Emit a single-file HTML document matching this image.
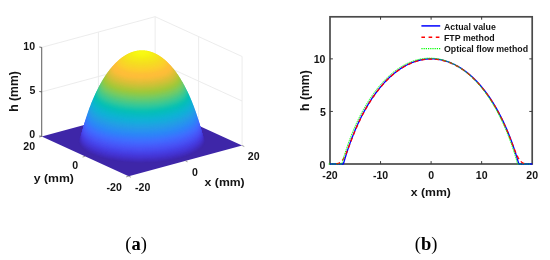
<!DOCTYPE html><html><head><meta charset="utf-8"><style>
html,body{margin:0;padding:0;background:#fff;}body{width:550px;height:260px;overflow:hidden;position:relative;}
svg{position:absolute;left:0;top:0;}
text{font-family:"Liberation Sans",Arial,sans-serif;font-weight:bold;fill:#141414;}
.cap{font-family:"Liberation Serif","Times New Roman",serif;fill:#000;font-weight:normal;}
</style></head><body>
<svg width="550" height="260" viewBox="0 0 550 260">
<line x1="98.42" y1="121.05" x2="98.42" y2="32.05" stroke="#eaeaea" stroke-width="0.9"/>
<line x1="155.12" y1="105.7" x2="155.12" y2="16.7" stroke="#eaeaea" stroke-width="0.9"/>
<line x1="41.72" y1="91.9" x2="155.12" y2="61.2" stroke="#eaeaea" stroke-width="0.9"/>
<line x1="41.72" y1="47.4" x2="155.12" y2="16.7" stroke="#eaeaea" stroke-width="0.9"/>
<line x1="198.6" y1="125.6" x2="198.6" y2="36.6" stroke="#eaeaea" stroke-width="0.9"/>
<line x1="242.08" y1="145.5" x2="242.08" y2="56.5" stroke="#eaeaea" stroke-width="0.9"/>
<line x1="155.12" y1="61.2" x2="242.08" y2="101" stroke="#eaeaea" stroke-width="0.9"/>
<line x1="155.12" y1="16.7" x2="242.08" y2="56.5" stroke="#eaeaea" stroke-width="0.9"/>
<g transform="matrix(2.835,-0.7675,-2.174,-0.995,141.9,140.95)">
<rect x="-20" y="-20" width="40" height="40" fill="#3e26a8"/>
</g>
<defs><mask id="domemask" maskUnits="userSpaceOnUse" x="0" y="0" width="550" height="260"><path d="M79.13,138.19 L87.59,113.01 L87.65,112.85 L87.95,111.97 L88.46,110.51 L88.52,110.34 L89.80,106.84 L90.24,105.67 L90.91,103.92 L90.98,103.77 L91.43,102.60 L92.14,100.86 L92.21,100.71 L93.94,96.64 L94.00,96.49 L94.39,95.63 L95.45,93.31 L95.51,93.17 L95.92,92.30 L97.47,89.13 L97.54,88.99 L97.98,88.13 L98.05,87.99 L98.94,86.27 L99.56,85.12 L99.63,84.99 L100.57,83.28 L100.64,83.15 L101.62,81.44 L101.70,81.32 L102.20,80.46 L102.89,79.33 L103.06,79.04 L103.13,78.92 L104.02,77.51 L104.10,77.39 L104.83,76.27 L105.39,75.42 L105.46,75.31 L106.23,74.19 L106.30,74.08 L106.89,73.24 L107.29,72.68 L107.37,72.57 L109.03,70.35 L109.10,70.25 L109.18,70.15 L109.61,69.60 L110.26,68.77 L110.34,68.67 L110.57,68.40 L110.65,68.30 L111.33,67.48 L111.79,66.94 L111.87,66.84 L113.07,65.49 L113.15,65.40 L113.23,65.31 L113.72,64.77 L113.80,64.69 L114.82,63.62 L114.90,63.54 L115.42,63.01 L115.50,62.92 L115.58,62.84 L116.66,61.79 L116.74,61.72 L116.82,61.64 L118.24,60.35 L118.32,60.27 L118.40,60.20 L118.48,60.13 L119.38,59.37 L119.46,59.30 L119.54,59.23 L120.48,58.48 L120.56,58.42 L120.64,58.35 L121.28,57.86 L121.36,57.80 L121.68,57.55 L121.77,57.49 L121.85,57.43 L121.94,57.37 L122.94,56.65 L123.03,56.59 L123.11,56.54 L123.20,56.48 L123.89,56.01 L123.98,55.96 L124.06,55.90 L124.78,55.45 L124.86,55.40 L124.95,55.35 L125.03,55.29 L125.77,54.85 L125.86,54.80 L125.94,54.75 L126.03,54.70 L126.78,54.28 L126.87,54.23 L126.95,54.18 L127.04,54.14 L127.12,54.09 L127.21,54.05 L127.30,54.00 L128.09,53.60 L128.17,53.56 L128.26,53.52 L128.35,53.48 L128.75,53.29 L128.84,53.24 L128.92,53.20 L129.01,53.16 L129.42,52.98 L129.50,52.94 L129.59,52.90 L129.68,52.87 L130.09,52.69 L130.18,52.65 L130.26,52.62 L130.35,52.58 L130.77,52.41 L130.85,52.38 L130.94,52.34 L131.02,52.31 L131.45,52.15 L131.53,52.12 L131.61,52.09 L131.70,52.05 L131.79,52.02 L131.87,51.99 L131.96,51.96 L132.05,51.93 L132.47,51.79 L132.56,51.76 L132.64,51.73 L132.73,51.70 L132.82,51.67 L133.24,51.54 L133.32,51.51 L133.41,51.49 L133.49,51.46 L133.58,51.43 L133.67,51.41 L133.75,51.38 L133.84,51.36 L134.25,51.24 L134.34,51.22 L134.42,51.20 L134.51,51.17 L134.59,51.15 L134.68,51.13 L134.77,51.11 L134.85,51.09 L134.94,51.06 L135.34,50.97 L135.42,50.95 L135.50,50.93 L135.59,50.91 L135.67,50.89 L135.76,50.87 L135.85,50.85 L135.93,50.83 L136.02,50.82 L136.11,50.80 L136.19,50.78 L136.28,50.76 L136.37,50.74 L136.46,50.73 L136.55,50.71 L136.64,50.69 L136.73,50.68 L136.82,50.66 L136.91,50.65 L137.00,50.63 L137.10,50.62 L137.41,50.57 L137.50,50.55 L137.59,50.54 L137.67,50.53 L137.76,50.51 L137.85,50.50 L137.94,50.49 L138.02,50.48 L138.11,50.46 L138.20,50.45 L138.29,50.44 L138.38,50.43 L138.47,50.42 L138.56,50.41 L138.65,50.40 L138.89,50.37 L138.97,50.36 L139.06,50.35 L139.14,50.34 L139.22,50.34 L139.31,50.33 L139.39,50.32 L139.48,50.31 L139.56,50.30 L139.65,50.30 L139.73,50.29 L139.82,50.28 L139.91,50.28 L139.99,50.27 L140.08,50.27 L140.16,50.26 L140.25,50.26 L140.34,50.25 L140.42,50.25 L140.51,50.24 L140.60,50.24 L140.68,50.23 L140.77,50.23 L140.86,50.23 L140.94,50.22 L141.03,50.22 L141.12,50.22 L141.20,50.21 L141.29,50.21 L141.38,50.21 L141.47,50.21 L141.55,50.21 L141.64,50.21 L141.73,50.21 L141.82,50.21 L141.90,50.21 L141.99,50.21 L142.08,50.21 L142.17,50.21 L142.25,50.21 L142.34,50.21 L142.43,50.21 L142.51,50.21 L142.60,50.21 L142.69,50.22 L142.78,50.22 L142.86,50.22 L142.95,50.22 L143.04,50.23 L143.12,50.23 L143.21,50.23 L143.30,50.24 L143.38,50.24 L143.47,50.25 L143.56,50.25 L143.64,50.26 L143.73,50.26 L143.82,50.27 L143.90,50.27 L143.99,50.28 L144.07,50.29 L144.16,50.29 L144.24,50.30 L144.33,50.31 L144.41,50.32 L144.50,50.32 L144.58,50.33 L144.67,50.34 L144.75,50.35 L144.83,50.36 L144.92,50.37 L145.16,50.39 L145.25,50.40 L145.34,50.41 L145.43,50.42 L145.52,50.43 L145.61,50.45 L145.69,50.46 L145.78,50.47 L145.87,50.48 L145.96,50.49 L146.05,50.51 L146.13,50.52 L146.22,50.53 L146.31,50.54 L146.39,50.56 L146.71,50.61 L146.80,50.62 L146.89,50.64 L146.99,50.65 L147.08,50.67 L147.17,50.69 L147.26,50.70 L147.35,50.72 L147.43,50.73 L147.52,50.75 L147.61,50.77 L147.70,50.79 L147.79,50.80 L147.87,50.82 L147.96,50.84 L148.05,50.86 L148.13,50.88 L148.22,50.90 L148.30,50.92 L148.39,50.94 L148.47,50.96 L148.86,51.05 L148.95,51.07 L149.04,51.09 L149.13,51.12 L149.21,51.14 L149.30,51.16 L149.38,51.18 L149.47,51.21 L149.55,51.23 L149.97,51.34 L150.05,51.37 L150.14,51.39 L150.23,51.42 L150.31,51.45 L150.40,51.47 L150.48,51.50 L150.57,51.52 L150.99,51.66 L151.07,51.68 L151.16,51.71 L151.25,51.74 L151.33,51.77 L151.76,51.91 L151.84,51.94 L151.93,51.97 L152.02,52.00 L152.11,52.04 L152.19,52.07 L152.28,52.10 L152.36,52.13 L152.78,52.29 L152.87,52.32 L152.95,52.36 L153.04,52.39 L153.46,52.56 L153.54,52.60 L153.63,52.63 L153.72,52.67 L154.13,52.84 L154.22,52.88 L154.30,52.92 L154.39,52.96 L154.80,53.14 L154.88,53.18 L154.97,53.22 L155.06,53.26 L155.46,53.45 L155.55,53.49 L155.63,53.54 L155.72,53.58 L156.51,53.98 L156.60,54.02 L156.68,54.07 L156.77,54.11 L156.85,54.16 L156.94,54.20 L157.02,54.25 L157.78,54.68 L157.86,54.73 L157.95,54.77 L158.03,54.82 L158.77,55.26 L158.86,55.32 L158.94,55.37 L159.03,55.42 L159.74,55.87 L159.83,55.93 L159.91,55.98 L160.61,56.44 L160.69,56.50 L160.78,56.56 L160.86,56.62 L161.87,57.33 L161.96,57.39 L162.04,57.45 L162.12,57.52 L162.45,57.76 L162.53,57.82 L163.16,58.31 L163.25,58.38 L163.33,58.44 L164.26,59.19 L164.35,59.26 L164.43,59.33 L165.32,60.09 L165.40,60.16 L165.49,60.23 L165.57,60.30 L166.98,61.59 L167.07,61.67 L167.15,61.75 L168.22,62.80 L168.31,62.88 L168.39,62.96 L168.91,63.49 L168.99,63.57 L170.01,64.64 L170.09,64.72 L170.58,65.26 L170.66,65.35 L171.85,66.70 L171.93,66.79 L172.01,66.88 L172.48,67.43 L173.16,68.25 L173.24,68.34 L173.46,68.62 L173.54,68.71 L174.19,69.54 L174.63,70.09 L174.70,70.19 L174.78,70.29 L176.44,72.51 L176.52,72.62 L176.91,73.18 L177.50,74.01 L177.58,74.12 L178.34,75.24 L178.42,75.36 L178.98,76.20 L179.71,77.33 L179.78,77.44 L180.67,78.86 L180.74,78.97 L180.92,79.26 L181.60,80.39 L182.11,81.25 L182.18,81.37 L183.16,83.08 L183.23,83.20 L184.18,84.92 L184.25,85.05 L184.86,86.19 L185.76,87.92 L185.83,88.05 L186.27,88.91 L187.82,92.08 L187.89,92.22 L188.29,93.08 L188.36,93.23 L189.42,95.54 L189.80,96.41 L189.87,96.56 L191.60,100.62 L191.66,100.77 L192.37,102.51 L192.83,103.68 L192.89,103.83 L193.56,105.58 L194.01,106.75 L195.28,110.25 L195.34,110.41 L195.85,111.87 L196.16,112.75 L204.61,137.89 L204.68,138.08 L204.74,138.27 L204.79,138.47 L204.84,138.66 L204.89,138.85 L204.93,139.05 L204.96,139.24 L205.00,139.43 L205.02,139.63 L205.04,139.82 L205.06,140.02 L205.07,140.21 L205.08,140.40 L205.08,140.60 L205.08,140.79 L205.07,140.98 L205.06,141.18 L205.04,141.37 L205.02,141.57 L204.99,141.76 L204.96,141.95 L204.93,142.15 L204.89,142.34 L204.84,142.53 L204.79,142.73 L204.73,142.92 L204.67,143.11 L204.61,143.31 L204.54,143.50 L204.46,143.69 L204.38,143.88 L204.30,144.07 L204.21,144.27 L204.12,144.46 L204.02,144.65 L203.92,144.84 L203.81,145.03 L203.70,145.22 L203.58,145.41 L203.46,145.60 L203.33,145.79 L203.20,145.98 L203.06,146.16 L202.92,146.35 L202.78,146.54 L202.63,146.72 L202.47,146.91 L202.32,147.10 L202.15,147.28 L201.98,147.47 L201.81,147.65 L201.63,147.84 L201.45,148.02 L201.26,148.20 L201.07,148.38 L200.88,148.56 L200.68,148.75 L200.47,148.93 L200.26,149.11 L200.05,149.28 L199.83,149.46 L199.61,149.64 L199.38,149.82 L199.15,149.99 L198.92,150.17 L198.68,150.34 L198.43,150.52 L198.19,150.69 L197.93,150.86 L197.68,151.04 L197.42,151.21 L197.15,151.38 L196.88,151.55 L196.61,151.72 L196.33,151.88 L196.05,152.05 L195.76,152.22 L195.47,152.38 L195.18,152.55 L194.88,152.71 L194.58,152.87 L194.27,153.03 L193.96,153.19 L193.64,153.35 L193.33,153.51 L193.00,153.67 L192.68,153.83 L192.35,153.98 L192.01,154.14 L191.68,154.29 L191.33,154.44 L190.99,154.60 L190.64,154.75 L190.29,154.90 L189.93,155.04 L189.57,155.19 L189.21,155.34 L188.84,155.48 L188.47,155.63 L188.09,155.77 L187.72,155.91 L187.34,156.05 L186.95,156.19 L186.56,156.33 L186.17,156.46 L185.78,156.60 L185.38,156.73 L184.98,156.87 L184.57,157.00 L184.16,157.13 L183.75,157.26 L183.34,157.39 L182.92,157.52 L182.50,157.64 L182.07,157.77 L181.65,157.89 L181.22,158.01 L180.78,158.13 L180.35,158.25 L179.91,158.37 L179.47,158.48 L179.02,158.60 L178.57,158.71 L178.12,158.83 L177.67,158.94 L177.21,159.05 L176.76,159.15 L176.29,159.26 L175.83,159.37 L175.36,159.47 L174.90,159.57 L174.42,159.67 L173.95,159.77 L173.47,159.87 L173.00,159.97 L172.51,160.06 L172.03,160.16 L171.54,160.25 L171.06,160.34 L170.57,160.43 L170.07,160.52 L169.58,160.60 L169.08,160.69 L168.58,160.77 L168.08,160.85 L167.58,160.93 L167.08,161.01 L166.57,161.09 L166.06,161.16 L165.55,161.24 L165.04,161.31 L164.52,161.38 L164.01,161.45 L163.49,161.52 L162.97,161.58 L162.45,161.65 L161.93,161.71 L161.41,161.77 L160.88,161.83 L160.35,161.89 L159.83,161.95 L159.30,162.00 L158.77,162.05 L158.23,162.10 L157.70,162.15 L157.17,162.20 L156.63,162.25 L156.09,162.29 L155.56,162.34 L155.02,162.38 L154.48,162.42 L153.94,162.46 L153.39,162.49 L152.85,162.53 L152.31,162.56 L151.76,162.59 L151.22,162.62 L150.67,162.65 L150.13,162.68 L149.58,162.70 L149.03,162.73 L148.49,162.75 L147.94,162.77 L147.39,162.79 L146.84,162.80 L146.29,162.82 L145.74,162.83 L145.19,162.84 L144.64,162.85 L144.09,162.86 L143.53,162.87 L142.98,162.87 L142.43,162.88 L141.88,162.88 L141.33,162.88 L140.78,162.87 L140.23,162.87 L139.68,162.86 L139.12,162.86 L138.57,162.85 L138.02,162.84 L137.47,162.83 L136.92,162.81 L136.37,162.80 L135.83,162.78 L135.28,162.76 L134.73,162.74 L134.18,162.72 L133.63,162.69 L133.09,162.67 L132.54,162.64 L132.00,162.61 L131.45,162.58 L130.91,162.55 L130.37,162.51 L129.83,162.48 L129.28,162.44 L128.74,162.40 L128.21,162.36 L127.67,162.32 L127.13,162.28 L126.60,162.23 L126.06,162.18 L125.53,162.13 L125.00,162.08 L124.47,162.03 L123.94,161.98 L123.41,161.92 L122.88,161.86 L122.36,161.81 L121.83,161.75 L121.31,161.68 L120.79,161.62 L120.27,161.56 L119.76,161.49 L119.24,161.42 L118.73,161.35 L118.21,161.28 L117.70,161.21 L117.20,161.13 L116.69,161.06 L116.18,160.98 L115.68,160.90 L115.18,160.82 L114.68,160.74 L114.19,160.65 L113.69,160.57 L113.20,160.48 L112.71,160.39 L112.22,160.30 L111.74,160.21 L111.25,160.12 L110.77,160.02 L110.29,159.93 L109.82,159.83 L109.34,159.73 L108.87,159.63 L108.40,159.53 L107.94,159.43 L107.47,159.32 L107.01,159.22 L106.55,159.11 L106.10,159.00 L105.64,158.89 L105.19,158.78 L104.75,158.67 L104.30,158.55 L103.86,158.44 L103.42,158.32 L102.99,158.20 L102.55,158.08 L102.12,157.96 L101.70,157.84 L101.27,157.71 L100.85,157.59 L100.43,157.46 L100.02,157.33 L99.61,157.21 L99.20,157.08 L98.80,156.94 L98.39,156.81 L98.00,156.68 L97.60,156.54 L97.21,156.41 L96.82,156.27 L96.44,156.13 L96.06,155.99 L95.68,155.85 L95.30,155.71 L94.93,155.57 L94.57,155.42 L94.20,155.28 L93.84,155.13 L93.49,154.98 L93.14,154.83 L92.79,154.68 L92.44,154.53 L92.10,154.38 L91.76,154.23 L91.43,154.07 L91.10,153.92 L90.77,153.76 L90.45,153.60 L90.13,153.45 L89.82,153.29 L89.51,153.13 L89.20,152.97 L88.90,152.80 L88.60,152.64 L88.31,152.48 L88.02,152.31 L87.73,152.15 L87.45,151.98 L87.17,151.81 L86.90,151.65 L86.63,151.48 L86.37,151.31 L86.11,151.14 L85.85,150.96 L85.60,150.79 L85.35,150.62 L85.10,150.45 L84.87,150.27 L84.63,150.10 L84.40,149.92 L84.17,149.74 L83.95,149.57 L83.73,149.39 L83.52,149.21 L83.31,149.03 L83.11,148.85 L82.91,148.67 L82.71,148.49 L82.52,148.31 L82.34,148.12 L82.15,147.94 L81.98,147.76 L81.80,147.57 L81.64,147.39 L81.47,147.20 L81.31,147.02 L81.16,146.83 L81.01,146.65 L80.87,146.46 L80.73,146.27 L80.59,146.08 L80.46,145.90 L80.33,145.71 L80.21,145.52 L80.10,145.33 L79.98,145.14 L79.88,144.95 L79.77,144.76 L79.68,144.57 L79.58,144.38 L79.49,144.19 L79.41,143.99 L79.33,143.80 L79.26,143.61 L79.19,143.42 L79.12,143.22 L79.06,143.03 L79.01,142.84 L78.96,142.65 L78.91,142.45 L78.87,142.26 L78.84,142.07 L78.80,141.87 L78.78,141.68 L78.76,141.49 L78.74,141.29 L78.73,141.10 L78.72,140.90 L78.72,140.71 L78.72,140.52 L78.73,140.32 L78.74,140.13 L78.76,139.93 L78.78,139.74 L78.81,139.55 L78.84,139.35 L78.87,139.16 L78.91,138.97 L78.96,138.77 L79.01,138.58 L79.07,138.39Z" fill="#fff"/></mask></defs>
<g mask="url(#domemask)"><g transform="matrix(2.835,-0.7675,-2.174,-0.995,141.9,140.95)">
<circle cx="0.144" cy="0.187" r="17.685" fill="#3e27ab"/>
<circle cx="0.287" cy="0.375" r="17.570" fill="#3f28ae"/>
<circle cx="0.431" cy="0.562" r="17.495" fill="#3f29b1"/>
<circle cx="0.575" cy="0.749" r="17.435" fill="#4029b3"/>
<circle cx="0.718" cy="0.937" r="17.390" fill="#402ab6"/>
<circle cx="0.862" cy="1.124" r="17.345" fill="#412bb9"/>
<circle cx="1.006" cy="1.311" r="17.305" fill="#412cbb"/>
<circle cx="1.149" cy="1.499" r="17.270" fill="#422dbe"/>
<circle cx="1.293" cy="1.686" r="17.240" fill="#422dc0"/>
<circle cx="1.437" cy="1.873" r="17.205" fill="#422ec2"/>
<circle cx="1.580" cy="2.061" r="17.180" fill="#432fc5"/>
<circle cx="1.724" cy="2.248" r="17.150" fill="#4330c7"/>
<circle cx="1.868" cy="2.435" r="17.120" fill="#4331c9"/>
<circle cx="2.011" cy="2.623" r="17.095" fill="#4432cb"/>
<circle cx="2.155" cy="2.810" r="17.070" fill="#4433ce"/>
<circle cx="2.299" cy="2.997" r="17.045" fill="#4434d0"/>
<circle cx="2.442" cy="3.185" r="17.020" fill="#4535d2"/>
<circle cx="2.586" cy="3.372" r="16.995" fill="#4536d3"/>
<circle cx="2.730" cy="3.560" r="16.970" fill="#4537d5"/>
<circle cx="2.873" cy="3.747" r="16.950" fill="#4537d7"/>
<circle cx="3.017" cy="3.934" r="16.925" fill="#4638d9"/>
<circle cx="3.161" cy="4.122" r="16.900" fill="#4639da"/>
<circle cx="3.304" cy="4.309" r="16.880" fill="#463bdc"/>
<circle cx="3.448" cy="4.496" r="16.855" fill="#463cde"/>
<circle cx="3.592" cy="4.684" r="16.835" fill="#463ddf"/>
<circle cx="3.735" cy="4.871" r="16.810" fill="#463ee1"/>
<circle cx="3.879" cy="5.058" r="16.790" fill="#463fe2"/>
<circle cx="4.023" cy="5.246" r="16.765" fill="#4740e4"/>
<circle cx="4.166" cy="5.433" r="16.745" fill="#4741e5"/>
<circle cx="4.310" cy="5.620" r="16.720" fill="#4742e6"/>
<circle cx="4.454" cy="5.808" r="16.700" fill="#4744e8"/>
<circle cx="4.597" cy="5.995" r="16.675" fill="#4745e9"/>
<circle cx="4.741" cy="6.182" r="16.655" fill="#4746ea"/>
<circle cx="4.885" cy="6.370" r="16.630" fill="#4747ec"/>
<circle cx="5.028" cy="6.557" r="16.610" fill="#4749ed"/>
<circle cx="5.172" cy="6.744" r="16.585" fill="#474aee"/>
<circle cx="5.316" cy="6.932" r="16.565" fill="#474bef"/>
<circle cx="5.459" cy="7.119" r="16.540" fill="#484cf0"/>
<circle cx="5.603" cy="7.306" r="16.520" fill="#484ef1"/>
<circle cx="5.746" cy="7.494" r="16.495" fill="#484ff2"/>
<circle cx="5.890" cy="7.681" r="16.470" fill="#4850f3"/>
<circle cx="6.034" cy="7.868" r="16.450" fill="#4851f4"/>
<circle cx="6.177" cy="8.056" r="16.425" fill="#4852f4"/>
<circle cx="6.321" cy="8.243" r="16.400" fill="#4854f5"/>
<circle cx="6.465" cy="8.430" r="16.380" fill="#4855f6"/>
<circle cx="6.608" cy="8.618" r="16.355" fill="#4756f6"/>
<circle cx="6.752" cy="8.805" r="16.330" fill="#4757f7"/>
<circle cx="6.896" cy="8.992" r="16.310" fill="#4759f8"/>
<circle cx="7.039" cy="9.180" r="16.285" fill="#475af8"/>
<circle cx="7.183" cy="9.367" r="16.260" fill="#475bf9"/>
<circle cx="7.327" cy="9.554" r="16.235" fill="#465cfa"/>
<circle cx="7.470" cy="9.742" r="16.210" fill="#465dfa"/>
<circle cx="7.614" cy="9.929" r="16.190" fill="#455ffb"/>
<circle cx="7.758" cy="10.116" r="16.165" fill="#4560fb"/>
<circle cx="7.901" cy="10.304" r="16.140" fill="#4561fc"/>
<circle cx="8.045" cy="10.491" r="16.115" fill="#4462fc"/>
<circle cx="8.189" cy="10.679" r="16.090" fill="#4464fd"/>
<circle cx="8.332" cy="10.866" r="16.065" fill="#4365fd"/>
<circle cx="8.476" cy="11.053" r="16.040" fill="#4366fd"/>
<circle cx="8.620" cy="11.241" r="16.015" fill="#4267fe"/>
<circle cx="8.763" cy="11.428" r="15.990" fill="#4269fe"/>
<circle cx="8.907" cy="11.615" r="15.965" fill="#416afe"/>
<circle cx="9.051" cy="11.803" r="15.940" fill="#416bfe"/>
<circle cx="9.194" cy="11.990" r="15.915" fill="#406cfe"/>
<circle cx="9.338" cy="12.177" r="15.890" fill="#406efe"/>
<circle cx="9.482" cy="12.365" r="15.865" fill="#3f6ffe"/>
<circle cx="9.625" cy="12.552" r="15.835" fill="#3f70fe"/>
<circle cx="9.769" cy="12.739" r="15.810" fill="#3e71fe"/>
<circle cx="9.913" cy="12.927" r="15.785" fill="#3d72fe"/>
<circle cx="10.056" cy="13.114" r="15.760" fill="#3c74fe"/>
<circle cx="10.200" cy="13.301" r="15.735" fill="#3b75fd"/>
<circle cx="10.344" cy="13.489" r="15.705" fill="#3a76fd"/>
<circle cx="10.487" cy="13.676" r="15.680" fill="#3978fd"/>
<circle cx="10.631" cy="13.863" r="15.655" fill="#3879fc"/>
<circle cx="10.775" cy="14.051" r="15.625" fill="#377afc"/>
<circle cx="10.918" cy="14.238" r="15.600" fill="#367bfb"/>
<circle cx="11.062" cy="14.425" r="15.575" fill="#357cfb"/>
<circle cx="11.206" cy="14.613" r="15.545" fill="#347efb"/>
<circle cx="11.349" cy="14.800" r="15.520" fill="#337ffa"/>
<circle cx="11.493" cy="14.987" r="15.490" fill="#3280fa"/>
<circle cx="11.637" cy="15.175" r="15.465" fill="#3181f9"/>
<circle cx="11.780" cy="15.362" r="15.435" fill="#3083f9"/>
<circle cx="11.924" cy="15.549" r="15.410" fill="#2f84f8"/>
<circle cx="12.068" cy="15.737" r="15.380" fill="#2f85f8"/>
<circle cx="12.211" cy="15.924" r="15.355" fill="#2e86f7"/>
<circle cx="12.355" cy="16.111" r="15.325" fill="#2d87f7"/>
<circle cx="12.499" cy="16.299" r="15.300" fill="#2d88f6"/>
<circle cx="12.642" cy="16.486" r="15.270" fill="#2c89f6"/>
<circle cx="12.786" cy="16.673" r="15.240" fill="#2c8bf5"/>
<circle cx="12.930" cy="16.861" r="15.215" fill="#2b8cf4"/>
<circle cx="13.073" cy="17.048" r="15.185" fill="#2b8df4"/>
<circle cx="13.217" cy="17.236" r="15.155" fill="#2b8ef3"/>
<circle cx="13.361" cy="17.423" r="15.125" fill="#2a8ff2"/>
<circle cx="13.504" cy="17.610" r="15.095" fill="#2a90f1"/>
<circle cx="13.648" cy="17.798" r="15.070" fill="#2991f0"/>
<circle cx="13.792" cy="17.985" r="15.040" fill="#2992f0"/>
<circle cx="13.935" cy="18.172" r="15.010" fill="#2993ef"/>
<circle cx="14.079" cy="18.360" r="14.980" fill="#2894ee"/>
<circle cx="14.223" cy="18.547" r="14.950" fill="#2895ed"/>
<circle cx="14.366" cy="18.734" r="14.920" fill="#2896ec"/>
<circle cx="14.510" cy="18.922" r="14.890" fill="#2797eb"/>
<circle cx="14.654" cy="19.109" r="14.860" fill="#2798ea"/>
<circle cx="14.797" cy="19.296" r="14.830" fill="#2699e9"/>
<circle cx="14.941" cy="19.484" r="14.800" fill="#269ae9"/>
<circle cx="15.085" cy="19.671" r="14.770" fill="#269be8"/>
<circle cx="15.228" cy="19.858" r="14.740" fill="#259ce7"/>
<circle cx="15.372" cy="20.046" r="14.710" fill="#259de6"/>
<circle cx="15.516" cy="20.233" r="14.675" fill="#249ee5"/>
<circle cx="15.659" cy="20.420" r="14.645" fill="#239fe5"/>
<circle cx="15.803" cy="20.608" r="14.615" fill="#22a0e4"/>
<circle cx="15.947" cy="20.795" r="14.585" fill="#22a1e3"/>
<circle cx="16.090" cy="20.982" r="14.550" fill="#21a2e3"/>
<circle cx="16.234" cy="21.170" r="14.520" fill="#20a3e2"/>
<circle cx="16.378" cy="21.357" r="14.490" fill="#1fa4e1"/>
<circle cx="16.521" cy="21.544" r="14.455" fill="#1ea5e0"/>
<circle cx="16.665" cy="21.732" r="14.425" fill="#1da6e0"/>
<circle cx="16.808" cy="21.919" r="14.395" fill="#1ca7df"/>
<circle cx="16.952" cy="22.106" r="14.360" fill="#1ba8de"/>
<circle cx="17.096" cy="22.294" r="14.330" fill="#1aa9de"/>
<circle cx="17.239" cy="22.481" r="14.295" fill="#19aadd"/>
<circle cx="17.383" cy="22.668" r="14.265" fill="#18abdc"/>
<circle cx="17.527" cy="22.856" r="14.230" fill="#17acdc"/>
<circle cx="17.670" cy="23.043" r="14.195" fill="#16addb"/>
<circle cx="17.814" cy="23.230" r="14.165" fill="#15aeda"/>
<circle cx="17.958" cy="23.418" r="14.130" fill="#14aed9"/>
<circle cx="18.101" cy="23.605" r="14.095" fill="#13afd8"/>
<circle cx="18.245" cy="23.793" r="14.065" fill="#13b0d7"/>
<circle cx="18.389" cy="23.980" r="14.030" fill="#12b1d7"/>
<circle cx="18.532" cy="24.167" r="13.995" fill="#11b1d6"/>
<circle cx="18.676" cy="24.355" r="13.960" fill="#11b2d5"/>
<circle cx="18.820" cy="24.542" r="13.925" fill="#10b3d4"/>
<circle cx="18.963" cy="24.729" r="13.890" fill="#0fb4d3"/>
<circle cx="19.107" cy="24.917" r="13.855" fill="#0fb4d1"/>
<circle cx="19.251" cy="25.104" r="13.820" fill="#0eb5d0"/>
<circle cx="19.394" cy="25.291" r="13.785" fill="#0eb6cf"/>
<circle cx="19.538" cy="25.479" r="13.750" fill="#0db6ce"/>
<circle cx="19.682" cy="25.666" r="13.715" fill="#0cb7cc"/>
<circle cx="19.825" cy="25.853" r="13.680" fill="#0cb7cb"/>
<circle cx="19.969" cy="26.041" r="13.645" fill="#0bb8ca"/>
<circle cx="20.113" cy="26.228" r="13.610" fill="#0bb9c8"/>
<circle cx="20.256" cy="26.415" r="13.575" fill="#0ab9c7"/>
<circle cx="20.400" cy="26.603" r="13.535" fill="#0abac6"/>
<circle cx="20.544" cy="26.790" r="13.500" fill="#09bac4"/>
<circle cx="20.687" cy="26.977" r="13.465" fill="#09bbc3"/>
<circle cx="20.831" cy="27.165" r="13.425" fill="#08bbc1"/>
<circle cx="20.975" cy="27.352" r="13.390" fill="#08bcc0"/>
<circle cx="21.118" cy="27.539" r="13.350" fill="#08bcbf"/>
<circle cx="21.262" cy="27.727" r="13.315" fill="#08bdbd"/>
<circle cx="21.406" cy="27.914" r="13.275" fill="#08bdbc"/>
<circle cx="21.549" cy="28.101" r="13.240" fill="#08beba"/>
<circle cx="21.693" cy="28.289" r="13.200" fill="#08bfb9"/>
<circle cx="21.837" cy="28.476" r="13.165" fill="#08bfb7"/>
<circle cx="21.980" cy="28.663" r="13.125" fill="#09c0b6"/>
<circle cx="22.124" cy="28.851" r="13.085" fill="#0ac0b4"/>
<circle cx="22.268" cy="29.038" r="13.050" fill="#0cc1b3"/>
<circle cx="22.411" cy="29.225" r="13.010" fill="#0ec1b1"/>
<circle cx="22.555" cy="29.413" r="12.970" fill="#10c2b0"/>
<circle cx="22.699" cy="29.600" r="12.930" fill="#12c2ae"/>
<circle cx="22.842" cy="29.787" r="12.890" fill="#14c3ad"/>
<circle cx="22.986" cy="29.975" r="12.850" fill="#17c3ab"/>
<circle cx="23.130" cy="30.162" r="12.810" fill="#1ac4a9"/>
<circle cx="23.273" cy="30.349" r="12.770" fill="#1cc5a8"/>
<circle cx="23.417" cy="30.537" r="12.730" fill="#1fc5a6"/>
<circle cx="23.561" cy="30.724" r="12.690" fill="#22c5a4"/>
<circle cx="23.704" cy="30.912" r="12.650" fill="#25c6a3"/>
<circle cx="23.848" cy="31.099" r="12.610" fill="#28c6a1"/>
<circle cx="23.992" cy="31.286" r="12.565" fill="#2bc79f"/>
<circle cx="24.135" cy="31.474" r="12.525" fill="#2ec79d"/>
<circle cx="24.279" cy="31.661" r="12.485" fill="#31c79c"/>
<circle cx="24.423" cy="31.848" r="12.440" fill="#33c89a"/>
<circle cx="24.566" cy="32.036" r="12.400" fill="#36c898"/>
<circle cx="24.710" cy="32.223" r="12.355" fill="#39c896"/>
<circle cx="24.854" cy="32.410" r="12.315" fill="#3bc894"/>
<circle cx="24.997" cy="32.598" r="12.270" fill="#3ec992"/>
<circle cx="25.141" cy="32.785" r="12.230" fill="#40c990"/>
<circle cx="25.285" cy="32.972" r="12.185" fill="#43c98e"/>
<circle cx="25.428" cy="33.160" r="12.140" fill="#46c98b"/>
<circle cx="25.572" cy="33.347" r="12.095" fill="#49c989"/>
<circle cx="25.716" cy="33.534" r="12.055" fill="#4bc987"/>
<circle cx="25.859" cy="33.722" r="12.010" fill="#4eca84"/>
<circle cx="26.003" cy="33.909" r="11.965" fill="#51ca82"/>
<circle cx="26.147" cy="34.096" r="11.920" fill="#54ca80"/>
<circle cx="26.290" cy="34.284" r="11.875" fill="#57ca7d"/>
<circle cx="26.434" cy="34.471" r="11.830" fill="#5aca7b"/>
<circle cx="26.578" cy="34.658" r="11.785" fill="#5dca78"/>
<circle cx="26.721" cy="34.846" r="11.735" fill="#5fca76"/>
<circle cx="26.865" cy="35.033" r="11.690" fill="#62ca74"/>
<circle cx="27.009" cy="35.220" r="11.645" fill="#65cb71"/>
<circle cx="27.152" cy="35.408" r="11.595" fill="#68cb6f"/>
<circle cx="27.296" cy="35.595" r="11.550" fill="#6bcb6c"/>
<circle cx="27.440" cy="35.782" r="11.505" fill="#6ecb6a"/>
<circle cx="27.583" cy="35.970" r="11.455" fill="#70cb68"/>
<circle cx="27.727" cy="36.157" r="11.405" fill="#73cb66"/>
<circle cx="27.870" cy="36.344" r="11.360" fill="#76cb63"/>
<circle cx="28.014" cy="36.532" r="11.310" fill="#79cb61"/>
<circle cx="28.158" cy="36.719" r="11.260" fill="#7bcb5e"/>
<circle cx="28.301" cy="36.906" r="11.210" fill="#7eca5c"/>
<circle cx="28.445" cy="37.094" r="11.165" fill="#81ca59"/>
<circle cx="28.589" cy="37.281" r="11.115" fill="#83ca56"/>
<circle cx="28.732" cy="37.469" r="11.060" fill="#86ca53"/>
<circle cx="28.876" cy="37.656" r="11.010" fill="#89ca51"/>
<circle cx="29.020" cy="37.843" r="10.960" fill="#8bca4e"/>
<circle cx="29.163" cy="38.031" r="10.910" fill="#8eca4b"/>
<circle cx="29.307" cy="38.218" r="10.860" fill="#90c949"/>
<circle cx="29.451" cy="38.405" r="10.805" fill="#93c946"/>
<circle cx="29.594" cy="38.593" r="10.755" fill="#96c944"/>
<circle cx="29.738" cy="38.780" r="10.700" fill="#98c942"/>
<circle cx="29.882" cy="38.967" r="10.650" fill="#9bc840"/>
<circle cx="30.025" cy="39.155" r="10.595" fill="#9ec83e"/>
<circle cx="30.169" cy="39.342" r="10.540" fill="#a0c83c"/>
<circle cx="30.313" cy="39.529" r="10.490" fill="#a3c83b"/>
<circle cx="30.456" cy="39.717" r="10.435" fill="#a5c73a"/>
<circle cx="30.600" cy="39.904" r="10.380" fill="#a8c739"/>
<circle cx="30.744" cy="40.091" r="10.325" fill="#abc739"/>
<circle cx="30.887" cy="40.279" r="10.270" fill="#adc739"/>
<circle cx="31.031" cy="40.466" r="10.210" fill="#b0c639"/>
<circle cx="31.175" cy="40.653" r="10.155" fill="#b3c639"/>
<circle cx="31.318" cy="40.841" r="10.100" fill="#b5c539"/>
<circle cx="31.462" cy="41.028" r="10.040" fill="#b8c539"/>
<circle cx="31.606" cy="41.215" r="9.985" fill="#bbc538"/>
<circle cx="31.749" cy="41.403" r="9.925" fill="#bdc438"/>
<circle cx="31.893" cy="41.590" r="9.865" fill="#c0c438"/>
<circle cx="32.037" cy="41.777" r="9.805" fill="#c3c338"/>
<circle cx="32.180" cy="41.965" r="9.745" fill="#c5c338"/>
<circle cx="32.324" cy="42.152" r="9.685" fill="#c8c238"/>
<circle cx="32.468" cy="42.339" r="9.625" fill="#cbc238"/>
<circle cx="32.611" cy="42.527" r="9.565" fill="#cdc138"/>
<circle cx="32.755" cy="42.714" r="9.505" fill="#d0c138"/>
<circle cx="32.899" cy="42.901" r="9.440" fill="#d2c138"/>
<circle cx="33.042" cy="43.089" r="9.380" fill="#d5c038"/>
<circle cx="33.186" cy="43.276" r="9.315" fill="#d7c038"/>
<circle cx="33.330" cy="43.463" r="9.250" fill="#d9c038"/>
<circle cx="33.473" cy="43.651" r="9.190" fill="#dcbf38"/>
<circle cx="33.617" cy="43.838" r="9.125" fill="#debf38"/>
<circle cx="33.761" cy="44.025" r="9.055" fill="#e0bf38"/>
<circle cx="33.904" cy="44.213" r="8.990" fill="#e2bf38"/>
<circle cx="34.048" cy="44.400" r="8.925" fill="#e5bf38"/>
<circle cx="34.192" cy="44.588" r="8.855" fill="#e7bf38"/>
<circle cx="34.335" cy="44.775" r="8.790" fill="#e9bf38"/>
<circle cx="34.479" cy="44.962" r="8.720" fill="#ecbf38"/>
<circle cx="34.623" cy="45.150" r="8.650" fill="#eebf39"/>
<circle cx="34.766" cy="45.337" r="8.580" fill="#f0be39"/>
<circle cx="34.910" cy="45.524" r="8.510" fill="#f2be39"/>
<circle cx="35.054" cy="45.712" r="8.440" fill="#f5be39"/>
<circle cx="35.197" cy="45.899" r="8.365" fill="#f6be39"/>
<circle cx="35.341" cy="46.086" r="8.295" fill="#f8be39"/>
<circle cx="35.485" cy="46.274" r="8.220" fill="#fabe39"/>
<circle cx="35.628" cy="46.461" r="8.145" fill="#fbbe39"/>
<circle cx="35.772" cy="46.648" r="8.070" fill="#fcbe39"/>
<circle cx="35.916" cy="46.836" r="7.995" fill="#fdbe39"/>
<circle cx="36.059" cy="47.023" r="7.915" fill="#febe39"/>
<circle cx="36.203" cy="47.210" r="7.840" fill="#febe39"/>
<circle cx="36.347" cy="47.398" r="7.760" fill="#febe39"/>
<circle cx="36.490" cy="47.585" r="7.680" fill="#febf39"/>
<circle cx="36.634" cy="47.772" r="7.600" fill="#febf39"/>
<circle cx="36.778" cy="47.960" r="7.520" fill="#fec038"/>
<circle cx="36.921" cy="48.147" r="7.435" fill="#fdc137"/>
<circle cx="37.065" cy="48.334" r="7.350" fill="#fdc236"/>
<circle cx="37.209" cy="48.522" r="7.265" fill="#fdc335"/>
<circle cx="37.352" cy="48.709" r="7.180" fill="#fdc534"/>
<circle cx="37.496" cy="48.896" r="7.095" fill="#fdc633"/>
<circle cx="37.640" cy="49.084" r="7.005" fill="#fdc832"/>
<circle cx="37.783" cy="49.271" r="6.915" fill="#fdc931"/>
<circle cx="37.927" cy="49.458" r="6.825" fill="#fcca30"/>
<circle cx="38.071" cy="49.646" r="6.730" fill="#fccc2f"/>
<circle cx="38.214" cy="49.833" r="6.635" fill="#fccd2e"/>
<circle cx="38.358" cy="50.020" r="6.540" fill="#fcce2d"/>
<circle cx="38.502" cy="50.208" r="6.440" fill="#fccf2d"/>
<circle cx="38.645" cy="50.395" r="6.345" fill="#fbd02c"/>
<circle cx="38.789" cy="50.582" r="6.245" fill="#fbd12b"/>
<circle cx="38.932" cy="50.770" r="6.140" fill="#fad22a"/>
<circle cx="39.076" cy="50.957" r="6.035" fill="#f9d429"/>
<circle cx="39.220" cy="51.145" r="5.930" fill="#f9d528"/>
<circle cx="39.363" cy="51.332" r="5.820" fill="#f8d628"/>
<circle cx="39.507" cy="51.519" r="5.710" fill="#f8d727"/>
<circle cx="39.651" cy="51.707" r="5.595" fill="#f7d826"/>
<circle cx="39.794" cy="51.894" r="5.480" fill="#f7d925"/>
<circle cx="39.938" cy="52.081" r="5.360" fill="#f7da24"/>
<circle cx="40.082" cy="52.269" r="5.240" fill="#f6dc23"/>
<circle cx="40.225" cy="52.456" r="5.115" fill="#f6dd22"/>
<circle cx="40.369" cy="52.643" r="4.990" fill="#f5de21"/>
<circle cx="40.513" cy="52.831" r="4.855" fill="#f5df20"/>
<circle cx="40.656" cy="53.018" r="4.720" fill="#f5e11f"/>
<circle cx="40.800" cy="53.205" r="4.580" fill="#f5e21f"/>
<circle cx="40.944" cy="53.393" r="4.435" fill="#f5e31e"/>
<circle cx="41.087" cy="53.580" r="4.285" fill="#f5e51d"/>
<circle cx="41.231" cy="53.767" r="4.130" fill="#f5e61b"/>
<circle cx="41.375" cy="53.955" r="3.970" fill="#f5e71a"/>
<circle cx="41.518" cy="54.142" r="3.800" fill="#f5e919"/>
<circle cx="41.662" cy="54.329" r="3.625" fill="#f5ea18"/>
<circle cx="41.806" cy="54.517" r="3.440" fill="#f5ec16"/>
<circle cx="41.949" cy="54.704" r="3.245" fill="#f5ed15"/>
<circle cx="42.093" cy="54.891" r="3.030" fill="#f6ef14"/>
<circle cx="42.237" cy="55.079" r="2.805" fill="#f6f114"/>
<circle cx="42.380" cy="55.266" r="2.560" fill="#f6f213"/>
<circle cx="42.524" cy="55.453" r="2.285" fill="#f7f413"/>
<circle cx="42.668" cy="55.641" r="1.975" fill="#f7f613"/>
<circle cx="42.811" cy="55.828" r="1.605" fill="#f8f714"/>
<circle cx="42.955" cy="56.015" r="1.115" fill="#f8f914"/>
<circle cx="43.099" cy="56.203" r="0.050" fill="#f9fb15"/>
</g></g>
<line x1="41.72" y1="136.7" x2="41.72" y2="47.4" stroke="#5a5a5a" stroke-width="1.0"/>
<line x1="41.72" y1="136.4" x2="39.32" y2="136" stroke="#404040" stroke-width="0.8"/>
<line x1="41.72" y1="91.9" x2="39.32" y2="91.5" stroke="#404040" stroke-width="0.8"/>
<line x1="41.72" y1="47.4" x2="39.32" y2="47" stroke="#404040" stroke-width="0.8"/>
<line x1="128.68" y1="176.2" x2="130.88" y2="177.2" stroke="#777" stroke-width="0.7"/>
<line x1="185.38" y1="160.85" x2="187.58" y2="161.85" stroke="#777" stroke-width="0.7"/>
<line x1="242.08" y1="145.5" x2="244.28" y2="146.5" stroke="#777" stroke-width="0.7"/>
<line x1="128.68" y1="176.2" x2="126.08" y2="176.9" stroke="#777" stroke-width="0.7"/>
<line x1="85.2" y1="156.3" x2="82.6" y2="157" stroke="#777" stroke-width="0.7"/>
<line x1="41.72" y1="136.4" x2="39.12" y2="137.1" stroke="#777" stroke-width="0.7"/>
<text transform="translate(35.1,49.6) scale(1.06,1)" font-size="10" text-anchor="end">10</text>
<text transform="translate(35.4,93.8) scale(1.06,1)" font-size="10" text-anchor="end">5</text>
<text transform="translate(35.1,137.9) scale(1.06,1)" font-size="10" text-anchor="end">0</text>
<text transform="translate(35.1,149.7) scale(1.06,1)" font-size="10" text-anchor="end">20</text>
<text transform="translate(78.2,169.2) scale(1.06,1)" font-size="10" text-anchor="end">0</text>
<text transform="translate(121.9,190.5) scale(1.06,1)" font-size="10" text-anchor="end">-20</text>
<text transform="translate(135,191) scale(1.06,1)" font-size="10" text-anchor="start">-20</text>
<text transform="translate(192.1,175.5) scale(1.06,1)" font-size="10" text-anchor="start">0</text>
<text transform="translate(247.8,160.2) scale(1.06,1)" font-size="10" text-anchor="start">20</text>
<text transform="translate(53.8,182.4) scale(1.065,1)" font-size="11.5" text-anchor="middle">y (mm)</text>
<text transform="translate(224.65,186) scale(1.065,1)" font-size="11.5" text-anchor="middle">x (mm)</text>
<text transform="translate(17.5,91.5) scale(1.03,1) rotate(-90)" font-size="12.2" text-anchor="middle">h (mm)</text>
<rect x="330" y="16.8" width="202.2" height="147.2" fill="none" stroke="#4a4a4a" stroke-width="1.7"/>
<line x1="380.55" y1="164" x2="380.55" y2="161.1" stroke="#3a3a3a" stroke-width="1"/>
<line x1="380.55" y1="16.8" x2="380.55" y2="19.7" stroke="#3a3a3a" stroke-width="1"/>
<line x1="431.1" y1="164" x2="431.1" y2="161.1" stroke="#3a3a3a" stroke-width="1"/>
<line x1="431.1" y1="16.8" x2="431.1" y2="19.7" stroke="#3a3a3a" stroke-width="1"/>
<line x1="481.65" y1="164" x2="481.65" y2="161.1" stroke="#3a3a3a" stroke-width="1"/>
<line x1="481.65" y1="16.8" x2="481.65" y2="19.7" stroke="#3a3a3a" stroke-width="1"/>
<line x1="330" y1="111.43" x2="332.9" y2="111.43" stroke="#3a3a3a" stroke-width="1"/>
<line x1="532.2" y1="111.43" x2="529.3" y2="111.43" stroke="#3a3a3a" stroke-width="1"/>
<line x1="330" y1="58.86" x2="332.9" y2="58.86" stroke="#3a3a3a" stroke-width="1"/>
<line x1="532.2" y1="58.86" x2="529.3" y2="58.86" stroke="#3a3a3a" stroke-width="1"/>
<polyline points="330,164 330.51,164 331.01,164 331.52,164 332.02,164 332.53,164 333.03,164 333.54,164 334.04,164 334.55,164 335.05,164 335.56,164 336.07,164 336.57,164 337.08,164 337.58,164 338.09,164 338.59,164 339.1,164 339.6,164 340.11,164 340.62,164 341.12,164 341.63,164 342.13,164 342.64,164 343.14,164 343.65,163.1 344.15,161.32 344.66,159.59 345.16,157.89 345.67,156.22 346.18,154.59 346.68,153 347.19,151.43 347.69,149.89 348.2,148.38 348.7,146.9 349.21,145.45 349.71,144.02 350.22,142.62 350.73,141.23 351.23,139.88 351.74,138.54 352.24,137.23 352.75,135.94 353.25,134.67 353.76,133.42 354.26,132.19 354.77,130.97 355.27,129.78 355.78,128.6 356.29,127.44 356.79,126.3 357.3,125.18 357.8,124.07 358.31,122.97 358.81,121.9 359.32,120.83 359.82,119.79 360.33,118.75 360.84,117.74 361.34,116.73 361.85,115.74 362.35,114.76 362.86,113.8 363.36,112.85 363.87,111.91 364.37,110.99 364.88,110.07 365.38,109.17 365.89,108.28 366.4,107.4 366.9,106.54 367.41,105.68 367.91,104.84 368.42,104.01 368.92,103.18 369.43,102.37 369.93,101.57 370.44,100.78 370.95,100 371.45,99.23 371.96,98.47 372.46,97.72 372.97,96.98 373.47,96.25 373.98,95.52 374.48,94.81 374.99,94.11 375.49,93.41 376,92.73 376.51,92.05 377.01,91.38 377.52,90.73 378.02,90.07 378.53,89.43 379.03,88.8 379.54,88.17 380.04,87.56 380.55,86.95 381.06,86.35 381.56,85.75 382.07,85.17 382.57,84.59 383.08,84.02 383.58,83.46 384.09,82.91 384.59,82.36 385.1,81.82 385.6,81.29 386.11,80.76 386.62,80.25 387.12,79.74 387.63,79.23 388.13,78.74 388.64,78.25 389.14,77.77 389.65,77.29 390.15,76.82 390.66,76.36 391.17,75.91 391.67,75.46 392.18,75.02 392.68,74.59 393.19,74.16 393.69,73.74 394.2,73.33 394.7,72.92 395.21,72.52 395.71,72.12 396.22,71.73 396.73,71.35 397.23,70.97 397.74,70.61 398.24,70.24 398.75,69.88 399.25,69.53 399.76,69.19 400.26,68.85 400.77,68.52 401.28,68.19 401.78,67.87 402.29,67.56 402.79,67.25 403.3,66.94 403.8,66.65 404.31,66.36 404.81,66.07 405.32,65.79 405.82,65.52 406.33,65.25 406.84,64.99 407.34,64.73 407.85,64.48 408.35,64.24 408.86,64 409.36,63.76 409.87,63.53 410.37,63.31 410.88,63.09 411.39,62.88 411.89,62.68 412.4,62.48 412.9,62.28 413.41,62.09 413.91,61.91 414.42,61.73 414.92,61.56 415.43,61.39 415.93,61.23 416.44,61.07 416.95,60.92 417.45,60.78 417.96,60.64 418.46,60.5 418.97,60.37 419.47,60.25 419.98,60.13 420.48,60.02 420.99,59.91 421.5,59.81 422,59.71 422.51,59.62 423.01,59.53 423.52,59.45 424.02,59.37 424.53,59.3 425.03,59.24 425.54,59.17 426.04,59.12 426.55,59.07 427.06,59.03 427.56,58.99 428.07,58.95 428.57,58.92 429.08,58.9 429.58,58.88 430.09,58.87 430.59,58.86 431.1,58.86 431.61,58.86 432.11,58.87 432.62,58.88 433.12,58.9 433.63,58.92 434.13,58.95 434.64,58.99 435.14,59.03 435.65,59.07 436.15,59.12 436.66,59.17 437.17,59.24 437.67,59.3 438.18,59.37 438.68,59.45 439.19,59.53 439.69,59.62 440.2,59.71 440.7,59.81 441.21,59.91 441.72,60.02 442.22,60.13 442.73,60.25 443.23,60.37 443.74,60.5 444.24,60.64 444.75,60.78 445.25,60.92 445.76,61.07 446.26,61.23 446.77,61.39 447.28,61.56 447.78,61.73 448.29,61.91 448.79,62.09 449.3,62.28 449.8,62.48 450.31,62.68 450.81,62.88 451.32,63.09 451.83,63.31 452.33,63.53 452.84,63.76 453.34,64 453.85,64.24 454.35,64.48 454.86,64.73 455.36,64.99 455.87,65.25 456.37,65.52 456.88,65.79 457.39,66.07 457.89,66.36 458.4,66.65 458.9,66.94 459.41,67.25 459.91,67.56 460.42,67.87 460.92,68.19 461.43,68.52 461.94,68.85 462.44,69.19 462.95,69.53 463.45,69.88 463.96,70.24 464.46,70.61 464.97,70.97 465.47,71.35 465.98,71.73 466.48,72.12 466.99,72.52 467.5,72.92 468,73.33 468.51,73.74 469.01,74.16 469.52,74.59 470.02,75.02 470.53,75.46 471.03,75.91 471.54,76.36 472.05,76.82 472.55,77.29 473.06,77.77 473.56,78.25 474.07,78.74 474.57,79.23 475.08,79.74 475.58,80.25 476.09,80.76 476.59,81.29 477.1,81.82 477.61,82.36 478.11,82.91 478.62,83.46 479.12,84.02 479.63,84.59 480.13,85.17 480.64,85.75 481.14,86.35 481.65,86.95 482.16,87.56 482.66,88.17 483.17,88.8 483.67,89.43 484.18,90.07 484.68,90.73 485.19,91.38 485.69,92.05 486.2,92.73 486.7,93.41 487.21,94.11 487.72,94.81 488.22,95.52 488.73,96.25 489.23,96.98 489.74,97.72 490.24,98.47 490.75,99.23 491.25,100 491.76,100.78 492.27,101.57 492.77,102.37 493.28,103.18 493.78,104.01 494.29,104.84 494.79,105.68 495.3,106.54 495.8,107.4 496.31,108.28 496.81,109.17 497.32,110.07 497.83,110.99 498.33,111.91 498.84,112.85 499.34,113.8 499.85,114.76 500.35,115.74 500.86,116.73 501.36,117.74 501.87,118.75 502.38,119.79 502.88,120.83 503.39,121.9 503.89,122.97 504.4,124.07 504.9,125.18 505.41,126.3 505.91,127.44 506.42,128.6 506.92,129.78 507.43,130.97 507.94,132.19 508.44,133.42 508.95,134.67 509.45,135.94 509.96,137.23 510.46,138.54 510.97,139.88 511.47,141.23 511.98,142.62 512.49,144.02 512.99,145.45 513.5,146.9 514,148.38 514.51,149.89 515.01,151.43 515.52,153 516.02,154.59 516.53,156.22 517.03,157.89 517.54,159.59 518.05,161.32 518.55,163.1 519.06,164 519.56,164 520.07,164 520.57,164 521.08,164 521.58,164 522.09,164 522.6,164 523.1,164 523.61,164 524.11,164 524.62,164 525.12,164 525.63,164 526.13,164 526.64,164 527.14,164 527.65,164 528.16,164 528.66,164 529.17,164 529.67,164 530.18,164 530.68,164 531.19,164 531.69,164 532.2,164" fill="none" stroke="#0000ff" stroke-width="1.35" stroke-linejoin="round"/>
<polyline points="336.27,163.79 336.77,163.71 337.28,163.61 337.78,163.49 338.29,163.33 338.8,163.14 339.3,162.9 339.81,162.62 340.31,162.28 340.82,161.88 341.32,161.42 341.83,160.88 342.33,160.28 342.84,159.6 343.35,158.84 343.85,158.01 344.36,157.11 344.86,156.14 345.37,155.1 345.87,154.01 346.38,152.86 346.88,151.66 347.39,150.43 347.89,149.16 348.4,147.87 348.91,146.56 349.41,145.24 349.92,143.91 350.42,142.58 350.93,141.26 351.43,139.94 351.94,138.63 352.44,137.33 352.95,136.05 353.46,134.78 353.96,133.53 354.47,132.3 354.97,131.08 355.48,129.88 355.98,128.7 356.49,127.53 356.99,126.39 357.5,125.25 358,124.14 358.51,123.04 359.02,121.96 359.52,120.89 360.03,119.84 360.53,118.8 361.04,117.78 361.54,116.78 362.05,115.78 362.55,114.8 363.06,113.83 363.57,112.88 364.07,111.94 364.58,111.01 365.08,110.1 365.59,109.19 366.09,108.3 366.6,107.42 367.1,106.56 367.61,105.7 368.11,104.86 368.62,104.02 369.13,103.2 369.63,102.39 370.14,101.58 370.64,100.79 371.15,100.01 371.65,99.24 372.16,98.48 372.66,97.73 373.17,96.99 373.68,96.26 374.18,95.54 374.69,94.82 375.19,94.12 375.7,93.43 376.2,92.74 376.71,92.06 377.21,91.4 377.72,90.74 378.22,90.09 378.73,89.45 379.24,88.81 379.74,88.19 380.25,87.57 380.75,86.96 381.26,86.36 381.76,85.77 382.27,85.19 382.77,84.61 383.28,84.04 383.79,83.48 384.29,82.93 384.8,82.38 385.3,81.84 385.81,81.31 386.31,80.79 386.82,80.27 387.32,79.76 387.83,79.26 388.33,78.77 388.84,78.28 389.35,77.8 389.85,77.33 390.36,76.86 390.86,76.4 391.37,75.95 391.87,75.5 392.38,75.06 392.88,74.63 393.39,74.2 393.9,73.78 394.4,73.37 394.91,72.96 395.41,72.56 395.92,72.17 396.42,71.78 396.93,71.4 397.43,71.03 397.94,70.66 398.44,70.3 398.95,69.94 399.46,69.59 399.96,69.25 400.47,68.91 400.97,68.58 401.48,68.25 401.98,67.93 402.49,67.62 402.99,67.31 403.5,67.01 404.01,66.72 404.51,66.43 405.02,66.14 405.52,65.87 406.03,65.59 406.53,65.33 407.04,65.07 407.54,64.81 408.05,64.56 408.55,64.32 409.06,64.08 409.57,63.85 410.07,63.62 410.58,63.4 411.08,63.19 411.59,62.98 412.09,62.77 412.6,62.58 413.1,62.38 413.61,62.2 414.12,62.01 414.62,61.84 415.13,61.67 415.63,61.5 416.14,61.34 416.64,61.19 417.15,61.04 417.65,60.89 418.16,60.75 418.66,60.62 419.17,60.49 419.68,60.37 420.18,60.25 420.69,60.14 421.19,60.04 421.7,59.94 422.2,59.84 422.71,59.75 423.21,59.67 423.72,59.59 424.23,59.51 424.73,59.44 425.24,59.38 425.74,59.32 426.25,59.27 426.75,59.22 427.26,59.18 427.76,59.14 428.27,59.11 428.77,59.08 429.28,59.06 429.79,59.04 430.29,59.03 430.8,59.03 431.3,59.03 431.81,59.03 432.31,59.04 432.82,59.06 433.32,59.08 433.83,59.1 434.34,59.13 434.84,59.17 435.35,59.21 435.85,59.26 436.36,59.31 436.86,59.37 437.37,59.43 437.87,59.5 438.38,59.57 438.88,59.65 439.39,59.73 439.9,59.82 440.4,59.92 440.91,60.02 441.41,60.12 441.92,60.23 442.42,60.35 442.93,60.47 443.43,60.6 443.94,60.73 444.45,60.86 444.95,61.01 445.46,61.16 445.96,61.31 446.47,61.47 446.97,61.63 447.48,61.8 447.98,61.98 448.49,62.16 448.99,62.34 449.5,62.54 450.01,62.73 450.51,62.94 451.02,63.15 451.52,63.36 452.03,63.58 452.53,63.8 453.04,64.04 453.54,64.27 454.05,64.51 454.56,64.76 455.06,65.02 455.57,65.27 456.07,65.54 456.58,65.81 457.08,66.09 457.59,66.37 458.09,66.66 458.6,66.95 459.1,67.25 459.61,67.56 460.12,67.87 460.62,68.19 461.13,68.51 461.63,68.84 462.14,69.18 462.64,69.52 463.15,69.87 463.65,70.22 464.16,70.59 464.67,70.95 465.17,71.33 465.68,71.71 466.18,72.09 466.69,72.48 467.19,72.88 467.7,73.29 468.2,73.7 468.71,74.12 469.21,74.54 469.72,74.97 470.23,75.41 470.73,75.86 471.24,76.31 471.74,76.77 472.25,77.23 472.75,77.7 473.26,78.18 473.76,78.67 474.27,79.16 474.78,79.66 475.28,80.17 475.79,80.68 476.29,81.21 476.8,81.74 477.3,82.27 477.81,82.82 478.31,83.37 478.82,83.93 479.32,84.5 479.83,85.07 480.34,85.65 480.84,86.24 481.35,86.84 481.85,87.45 482.36,88.06 482.86,88.69 483.37,89.32 483.87,89.96 484.38,90.61 484.89,91.26 485.39,91.93 485.9,92.6 486.4,93.29 486.91,93.98 487.41,94.68 487.92,95.39 488.42,96.11 488.93,96.84 489.43,97.58 489.94,98.33 490.45,99.09 490.95,99.86 491.46,100.64 491.96,101.43 492.47,102.23 492.97,103.04 493.48,103.86 493.98,104.69 494.49,105.53 495,106.38 495.5,107.25 496.01,108.13 496.51,109.01 497.02,109.92 497.52,110.83 498.03,111.75 498.53,112.69 499.04,113.64 499.54,114.61 500.05,115.58 500.56,116.58 501.06,117.58 501.57,118.6 502.07,119.63 502.58,120.68 503.08,121.75 503.59,122.82 504.09,123.92 504.6,125.03 505.11,126.16 505.61,127.3 506.12,128.46 506.62,129.64 507.13,130.84 507.63,132.05 508.14,133.28 508.64,134.53 509.15,135.79 509.65,137.07 510.16,138.37 510.67,139.67 511.17,140.99 511.68,142.32 512.18,143.65 512.69,144.97 513.19,146.3 513.7,147.61 514.2,148.91 514.71,150.18 515.22,151.42 515.72,152.62 516.23,153.78 516.73,154.89 517.24,155.94 517.74,156.92 518.25,157.84 518.75,158.68 519.26,159.45 519.76,160.15 520.27,160.77 520.78,161.32 521.28,161.79 521.79,162.21 522.29,162.56 522.8,162.85 523.3,163.1 523.81,163.3 524.31,163.46 524.82,163.59 525.33,163.69 525.83,163.77" fill="none" stroke="#ff0000" stroke-width="1.35" stroke-dasharray="4,3"/>
<polyline points="328.6,164 329.11,164 329.61,164 330.12,164 330.62,164 331.13,164 331.63,164 332.14,164 332.64,164 333.15,164 333.65,164 334.16,164 334.67,164 335.17,164 335.68,164 336.18,164 336.69,164 337.19,164 337.7,164 338.2,164 338.71,164 339.22,164 339.72,164 340.23,164 340.73,164 341.24,164 341.74,164 342.25,162.4 342.75,160.62 343.26,158.89 343.76,157.19 344.27,155.52 344.78,153.89 345.28,152.3 345.79,150.73 346.29,149.19 346.8,147.68 347.3,146.2 347.81,144.75 348.31,143.32 348.82,141.92 349.33,140.53 349.83,139.18 350.34,137.84 350.84,136.53 351.35,135.24 351.85,133.97 352.36,132.72 352.86,131.49 353.37,130.27 353.87,129.08 354.38,127.9 354.89,126.74 355.39,125.6 355.9,124.48 356.4,123.37 356.91,122.27 357.41,121.2 357.92,120.13 358.42,119.09 358.93,118.05 359.44,117.04 359.94,116.03 360.45,115.04 360.95,114.06 361.46,113.1 361.96,112.15 362.47,111.21 362.97,110.29 363.48,109.37 363.98,108.47 364.49,107.58 365,106.7 365.5,105.84 366.01,104.98 366.51,104.14 367.02,103.31 367.52,102.48 368.03,101.67 368.53,100.87 369.04,100.08 369.55,99.3 370.05,98.53 370.56,97.77 371.06,97.02 371.57,96.28 372.07,95.55 372.58,94.82 373.08,94.11 373.59,93.41 374.09,92.71 374.6,92.03 375.11,91.35 375.61,90.68 376.12,90.03 376.62,89.37 377.13,88.73 377.63,88.1 378.14,87.47 378.64,86.86 379.15,86.25 379.66,85.65 380.16,85.05 380.67,84.47 381.17,83.89 381.68,83.32 382.18,82.76 382.69,82.21 383.19,81.66 383.7,81.12 384.2,80.59 384.71,80.06 385.22,79.55 385.72,79.04 386.23,78.53 386.73,78.04 387.24,77.55 387.74,77.07 388.25,76.59 388.75,76.12 389.26,75.66 389.77,75.21 390.27,74.76 390.78,74.32 391.28,73.89 391.79,73.46 392.29,73.04 392.8,72.63 393.3,72.22 393.81,71.82 394.31,71.42 394.82,71.03 395.33,70.65 395.83,70.27 396.34,69.91 396.84,69.54 397.35,69.18 397.85,68.83 398.36,68.49 398.86,68.15 399.37,67.82 399.88,67.49 400.38,67.17 400.89,66.86 401.39,66.55 401.9,66.24 402.4,65.95 402.91,65.66 403.41,65.37 403.92,65.09 404.42,64.82 404.93,64.55 405.44,64.29 405.94,64.03 406.45,63.78 406.95,63.54 407.46,63.3 407.96,63.06 408.47,62.83 408.97,62.61 409.48,62.39 409.99,62.18 410.49,61.98 411,61.78 411.5,61.58 412.01,61.39 412.51,61.21 413.02,61.03 413.52,60.86 414.03,60.69 414.53,60.53 415.04,60.37 415.55,60.22 416.05,60.08 416.56,59.94 417.06,59.8 417.57,59.67 418.07,59.55 418.58,59.43 419.08,59.32 419.59,59.21 420.1,59.11 420.6,59.01 421.11,58.92 421.61,58.83 422.12,58.75 422.62,58.67 423.13,58.6 423.63,58.54 424.14,58.47 424.64,58.42 425.15,58.37 425.66,58.33 426.16,58.29 426.67,58.25 427.17,58.22 427.68,58.2 428.18,58.18 428.69,58.17 429.19,58.16 429.7,58.16 430.21,58.16 430.71,58.17 431.22,58.18 431.72,58.2 432.23,58.22 432.73,58.25 433.24,58.29 433.74,58.33 434.25,58.37 434.75,58.42 435.26,58.47 435.77,58.54 436.27,58.6 436.78,58.67 437.28,58.75 437.79,58.83 438.29,58.92 438.8,59.01 439.3,59.11 439.81,59.21 440.32,59.32 440.82,59.43 441.33,59.55 441.83,59.67 442.34,59.8 442.84,59.94 443.35,60.08 443.85,60.22 444.36,60.37 444.86,60.53 445.37,60.69 445.88,60.86 446.38,61.03 446.89,61.21 447.39,61.39 447.9,61.58 448.4,61.78 448.91,61.98 449.41,62.18 449.92,62.39 450.43,62.61 450.93,62.83 451.44,63.06 451.94,63.3 452.45,63.54 452.95,63.78 453.46,64.03 453.96,64.29 454.47,64.55 454.97,64.82 455.48,65.09 455.99,65.37 456.49,65.66 457,65.95 457.5,66.24 458.01,66.55 458.51,66.86 459.02,67.17 459.52,67.49 460.03,67.82 460.54,68.15 461.04,68.49 461.55,68.83 462.05,69.18 462.56,69.54 463.06,69.91 463.57,70.27 464.07,70.65 464.58,71.03 465.08,71.42 465.59,71.82 466.1,72.22 466.6,72.63 467.11,73.04 467.61,73.46 468.12,73.89 468.62,74.32 469.13,74.76 469.63,75.21 470.14,75.66 470.65,76.12 471.15,76.59 471.66,77.07 472.16,77.55 472.67,78.04 473.17,78.53 473.68,79.04 474.18,79.55 474.69,80.06 475.19,80.59 475.7,81.12 476.21,81.66 476.71,82.21 477.22,82.76 477.72,83.32 478.23,83.89 478.73,84.47 479.24,85.05 479.74,85.65 480.25,86.25 480.76,86.86 481.26,87.47 481.77,88.1 482.27,88.73 482.78,89.37 483.28,90.03 483.79,90.68 484.29,91.35 484.8,92.03 485.3,92.71 485.81,93.41 486.32,94.11 486.82,94.82 487.33,95.55 487.83,96.28 488.34,97.02 488.84,97.77 489.35,98.53 489.85,99.3 490.36,100.08 490.87,100.87 491.37,101.67 491.88,102.48 492.38,103.31 492.89,104.14 493.39,104.98 493.9,105.84 494.4,106.7 494.91,107.58 495.41,108.47 495.92,109.37 496.43,110.29 496.93,111.21 497.44,112.15 497.94,113.1 498.45,114.06 498.95,115.04 499.46,116.03 499.96,117.04 500.47,118.05 500.98,119.09 501.48,120.13 501.99,121.2 502.49,122.27 503,123.37 503.5,124.48 504.01,125.6 504.51,126.74 505.02,127.9 505.52,129.08 506.03,130.27 506.54,131.49 507.04,132.72 507.55,133.97 508.05,135.24 508.56,136.53 509.06,137.84 509.57,139.18 510.07,140.53 510.58,141.92 511.09,143.32 511.59,144.75 512.1,146.2 512.6,147.68 513.11,149.19 513.61,150.73 514.12,152.3 514.62,153.89 515.13,155.52 515.63,157.19 516.14,158.89 516.65,160.62 517.15,162.4 517.66,164 518.16,164 518.67,164 519.17,164 519.68,164 520.18,164 520.69,164 521.2,164 521.7,164 522.21,164 522.71,164 523.22,164 523.72,164 524.23,164 524.73,164 525.24,164 525.74,164 526.25,164 526.76,164 527.26,164 527.77,164 528.27,164 528.78,164 529.28,164 529.79,164 530.29,164 530.8,164" fill="none" stroke="#00ff00" stroke-width="0.9" stroke-dasharray="1.6,0.7"/>
<text transform="translate(325.5,62.8) scale(1.06,1)" font-size="10" text-anchor="end">10</text>
<text transform="translate(325.9,116) scale(1.06,1)" font-size="10" text-anchor="end">5</text>
<text transform="translate(325.5,168.5) scale(1.06,1)" font-size="10" text-anchor="end">0</text>
<text transform="translate(330,179) scale(1.06,1)" font-size="10" text-anchor="middle">-20</text>
<text transform="translate(380.55,179) scale(1.06,1)" font-size="10" text-anchor="middle">-10</text>
<text transform="translate(431.1,179) scale(1.06,1)" font-size="10" text-anchor="middle">0</text>
<text transform="translate(481.65,179) scale(1.06,1)" font-size="10" text-anchor="middle">10</text>
<text transform="translate(532.2,179) scale(1.06,1)" font-size="10" text-anchor="middle">20</text>
<text transform="translate(430.8,195.5) scale(1.065,1)" font-size="11.5" text-anchor="middle">x (mm)</text>
<text transform="translate(308.7,90.6) scale(1.03,1) rotate(-90)" font-size="12.2" text-anchor="middle">h (mm)</text>
<line x1="421.4" y1="25.9" x2="440.2" y2="25.9" stroke="#0000ff" stroke-width="1.5"/>
<line x1="421.4" y1="37.3" x2="440.2" y2="37.3" stroke="#ff0000" stroke-width="1.5" stroke-dasharray="3.6,3.6"/>
<line x1="421.4" y1="48.6" x2="440.2" y2="48.6" stroke="#00ff00" stroke-width="1.1" stroke-dasharray="1.2,1"/>
<text x="444" y="29.6" font-size="8.8" text-anchor="start">Actual value</text>
<text x="444" y="40.7" font-size="8.8" text-anchor="start">FTP method</text>
<text x="444" y="52" font-size="8.8" text-anchor="start">Optical flow method</text>
<text class="cap" x="125.3" y="249.6" font-size="18.5">(<tspan font-weight="bold">a</tspan>)</text>
<text class="cap" x="414.8" y="249.6" font-size="18.5">(<tspan font-weight="bold">b</tspan>)</text>
</svg></body></html>
